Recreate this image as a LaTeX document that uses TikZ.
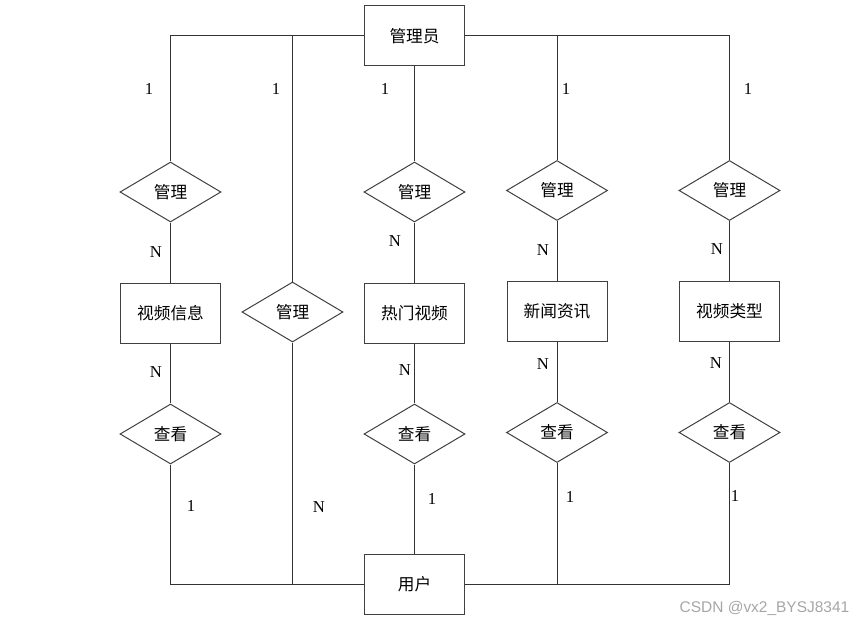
\documentclass[tikz,border=0pt]{standalone}
\usepackage{fontspec}
\newfontfamily\cjk{Noto Sans CJK SC}
\newfontfamily\cardfont{Liberation Serif}
\newfontfamily\markfont{Liberation Sans}
\usepackage{xcolor}
\usepackage{tikz}
\usetikzlibrary{shapes.geometric,positioning}

\begin{document}
\begin{tikzpicture}
      [ x=0.75pt, y=-0.75pt, node distance=45pt,
        entity/.style={draw=black!75, line width=0.75pt, minimum width=75pt,
                       minimum height=45pt, font=\cjk\fontsize{12.5}{14}\selectfont},
        relation/.style={draw=black!75, line width=0.75pt, diamond, aspect=1.7,
                       minimum width=75.75pt, minimum height=45pt, inner sep=1pt,
                       font=\cjk\fontsize{12.5}{14}\selectfont},
        card/.style={font=\cardfont\fontsize{12.5}{14}\selectfont},
        link/.style={draw=black!80, line width=0.75pt}
      ]
      \useasboundingbox (0,0) rectangle (857,624);

      \node[entity]    (admin) at (414.5,36)             {管理员};
      \node[relation]  (mgA)   at (170.5,192)            {管理};
      \node[entity]    (info)  [below=of mgA]            {视频信息};
      \node[relation]  (ckA)   [below=of info]           {查看};
      \node[relation]  (mgB)   at (292.5,312)            {管理};
      \node[relation]  (mgC)   at (414.5,192)            {管理};
      \node[entity]    (hot)   [below=of mgC]            {热门视频};
      \node[relation]  (ckC)   [below=of hot]            {查看};
      \node[relation]  (mgD)   at (557,190.5)            {管理};
      \node[entity]    (news)  [below=of mgD]            {新闻资讯};
      \node[relation]  (ckD)   [below=of news]           {查看};
      \node[relation]  (mgE)   at (729.5,190.5)          {管理};
      \node[entity]    (type)  [below=of mgE]            {视频类型};
      \node[relation]  (ckE)   [below=of type]           {查看};
      \node[entity]    (user)  at (414.5,584.5)          {用户};

      \draw[link] (admin.west) -| (mgA.north);
      \draw[link] (admin.west) -| (mgB.north);
      \draw[link] (admin.east) -| (mgD.north);
      \draw[link] (admin.east) -| (mgE.north);
      \draw[link] (ckA.south)  |- (user.west);
      \draw[link] (mgB.south)  |- (user.west);
      \draw[link] (ckD.south)  |- (user.east);
      \draw[link] (ckE.south)  |- (user.east);
      \path[link] (admin)  edge  (mgC)
                  (mgA)    edge  (info)
                  (info)   edge  (ckA)
                  (mgC)    edge  (hot)
                  (hot)    edge  (ckC)
                  (ckC)    edge  (user)
                  (mgD)    edge  (news)
                  (news)   edge  (ckD)
                  (mgE)    edge  (type)
                  (type)   edge  (ckE);

      \node[card] (a1) at (149,89)  {1};
      \node[card] (b1) at (276,89)  {1};
      \node[card] (c1) at (385,89)  {1};
      \node[card] (d1) at (566,89)  {1};
      \node[card] (e1) at (748,89)  {1};
      \node[card] (a2) at (156,252) {N};
      \node[card] (c2) at (395,241) {N};
      \node[card] (d2) at (543,250) {N};
      \node[card] (e2) at (717,249) {N};
      \node[card] (a3) at (156,372) {N};
      \node[card] (c3) at (405,370) {N};
      \node[card] (d3) at (543,364) {N};
      \node[card] (e3) at (716,363) {N};
      \node[card] (a4) at (191,506) {1};
      \node[card] (b4) at (319,507) {N};
      \node[card] (c4) at (432,499) {1};
      \node[card] (d4) at (570,497) {1};
      \node[card] (e4) at (735,496) {1};

      \node[font=\markfont\fontsize{11.6}{13}\selectfont, text=black!35, anchor=east]
            (mark) at (854,608) {CSDN @vx2\_BYSJ8341};
\end{tikzpicture}
\end{document}
